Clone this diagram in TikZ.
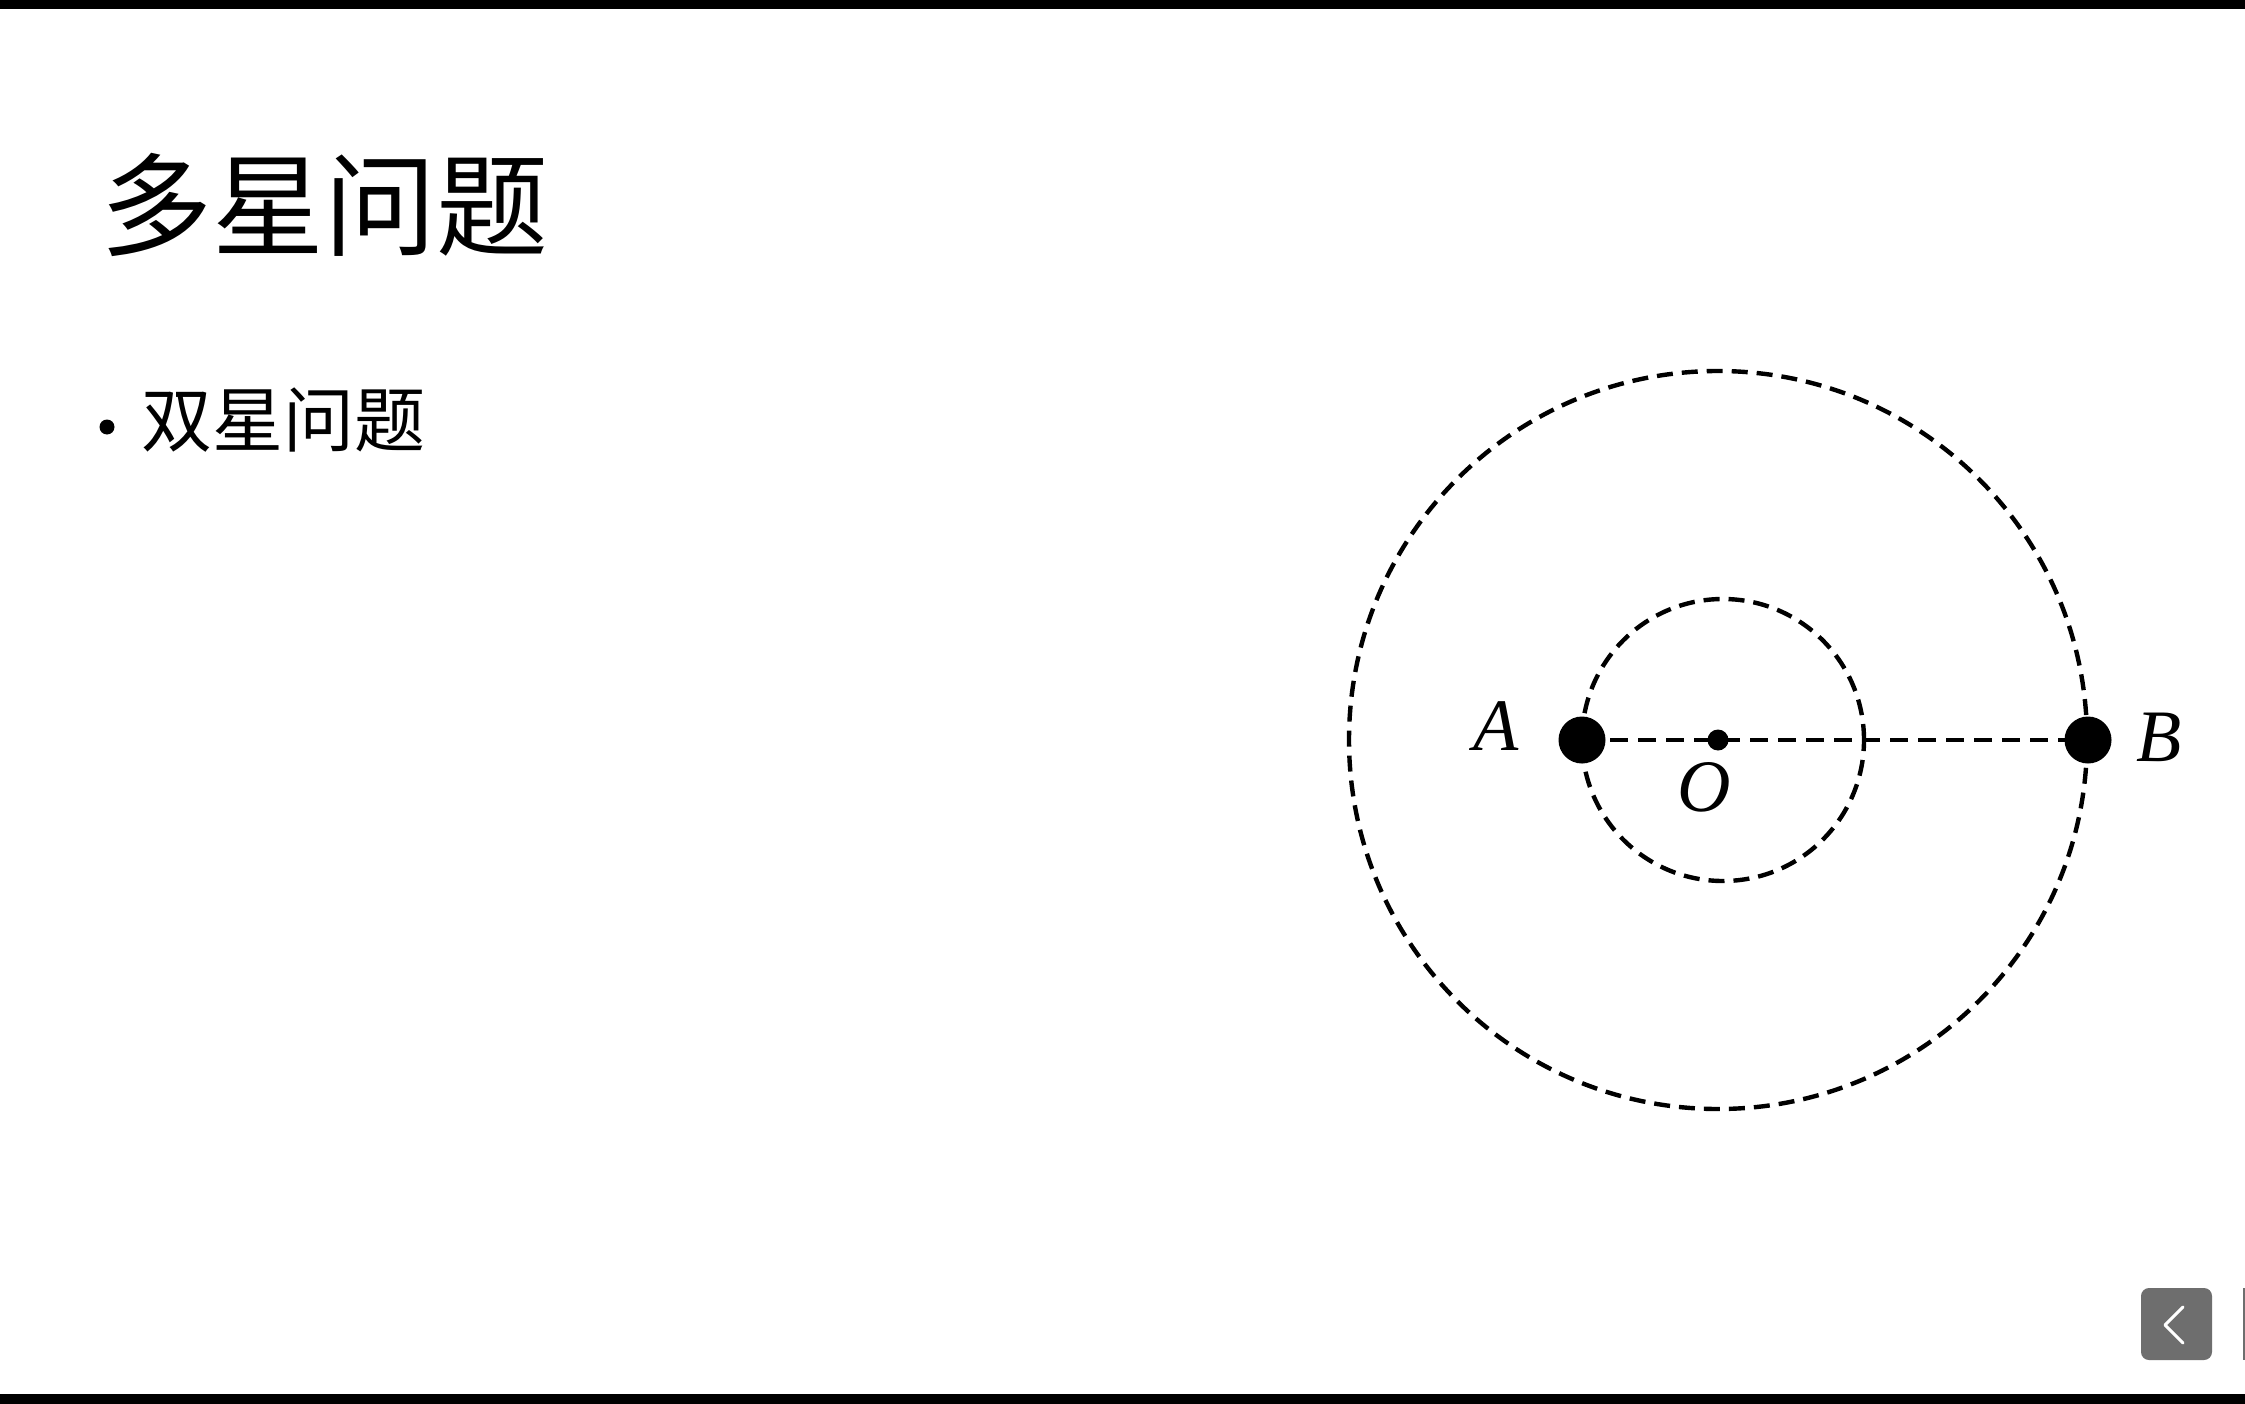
\documentclass[tikz,border=0pt]{standalone}
\usepackage{fontspec}
\setmainfont{Liberation Serif}
\newfontfamily\cjk{Noto Sans CJK SC}
\definecolor{btngray}{HTML}{6E6E6E}
\begin{document}
\begin{tikzpicture}[x=1pt,y=-1pt,
  orbit/.style={line width=4.4pt, dash pattern=on 16pt off 9pt},
  joinline/.style={line width=4.4pt, dash pattern=on 18pt off 10pt},
  starball/.style={circle, fill=black, inner sep=0pt, minimum size=47pt},
  centerdot/.style={circle, fill=black, inner sep=0pt, minimum size=21pt},
  letter/.style={inner sep=0pt, font=\itshape\fontsize{74}{74}\selectfont},
  titletext/.style={inner sep=0pt, anchor=west, font=\cjk\fontsize{112}{112}\selectfont},
  bullettext/.style={inner sep=0pt, anchor=west, font=\cjk\fontsize{71}{71}\selectfont}
]
\useasboundingbox (0,0) rectangle (2245,1404);
\fill[white] (0,0) rectangle (2245,1404);
\fill[black] (0,0) rectangle (2245,9);
\fill[black] (0,1394) rectangle (2245,1404);

% title and bullet
\node[titletext] (title) at (100,205) {多星问题};
\fill[black] (107,427) circle[radius=7.5pt];
\node[bullettext] (sub) at (141,420) {双星问题};

% diagram
\coordinate (Oc) at (1718,740);
\coordinate (Ic) at (1723,740);
\coordinate (Ac) at (1582,740);
\coordinate (Bc) at (2088,740);
\draw[orbit] (Oc) circle[radius=369pt];
\draw[orbit] (Ic) circle[radius=141pt];
\draw[joinline] (Ac) -- (Bc);
\node[starball] (A) at (Ac) {};
\node[starball] (B) at (Bc) {};
\node[centerdot] (O) at (Oc) {};
\node[letter] (labA) at (1496,726) {A};
\node[letter] (labB) at (2159,737) {B};
\node[letter] (labO) at (1704,787) {O};

% navigation button
\fill[btngray, rounded corners=8pt] (2141,1288) rectangle (2212,1360);
\draw[white, line width=3pt, line cap=round, line join=round]
  (2183,1307) -- (2165,1325) -- (2183,1343);
\fill[btngray] (2243,1288) rectangle (2245,1360);
\end{tikzpicture}
\end{document}
